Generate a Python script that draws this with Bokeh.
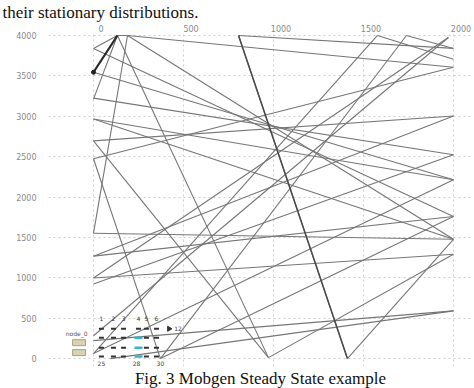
from bokeh.plotting import figure
from bokeh.models import Range1d, LinearAxis, FixedTicker, Title
from bokeh.embed import file_html
from bokeh.resources import INLINE
from bokeh.core.properties import value

# ---- data: trajectory segments (x in m, y in m) ----
seg_x0 = [0, 0, 133, 189, 189, 189, 0, 0, 0, 0, 0, 806, 806, 1411, 0, 372, 1578, 1739,
          0, 0, 0, 0, 0, 0, 0, 0, 0, 0, 94, 372, 972, 0, 0, 0, 0, 133]
seg_y0 = [3545, 3212, 4000, 4000, 4000, 4000, 3840, 3545, 3225, 2474, 2695, 4000, 4000, 0,
          62, 0, 4000, 4000, 997, 283, 1551, 2474, 2695, 3840, 2966, 997, 923, 222, 0, 0,
          12, 62, 2966, 1268, 1268, 4000]
seg_x1 = [133, 133, 189, 0, 2000, 2000, 2000, 2000, 2000, 2000, 2000, 2000, 1411, 2000,
          1578, 1739, 2000, 2000, 1972, 1972, 2000, 372, 972, 133, 2000, 2000, 2000, 2000,
          2000, 2000, 2000, 2000, 2000, 2000, 2000, 972]
seg_y1 = [4000, 4000, 4000, 1551, 3606, 1477, 1760, 2215, 2523, 3606, 3003, 3840, 0, 1477,
          4000, 4000, 3705, 3840, 3975, 3975, 1477, 0, 12, 4000, 2215, 1292, 2523, 591,
          591, 1760, 1292, 2215, 1477, 1760, 3003, 12]
thick_idx = [0]
dark_idx = [12]

x_ticks = [0, 500, 1000, 1500, 2000]
y_ticks = [0, 500, 1000, 1500, 2000, 2500, 3000, 3500, 4000]

# ---- inset (small node diagram, bottom-left) ----
node_cols = [44, 111, 167, 250, 294, 350]
node_rows = [369, 258, 135, 25]
node_col_labels = ["1", "2", "3", "4", "5", "6"]
node_label_y = 492
bottom_labels = ["25", "28", "30"]
bottom_label_x = [44, 239, 372]
bottom_label_y = -62
cyan_rows = [258, 135, 25]
icon_y = [197, 74]

p = figure(width=474, height=388, output_backend="svg", toolbar_location=None,
           x_range=Range1d(-250, 2106), y_range=Range1d(-98, 4037),
           x_axis_location=None, y_axis_location="left",
           min_border_left=48, min_border_right=2, min_border_top=30, min_border_bottom=22)
p.outline_line_color = None
p.background_fill_color = "white"

# grids
p.xgrid.ticker = FixedTicker(ticks=x_ticks)
p.ygrid.ticker = FixedTicker(ticks=y_ticks)
p.grid.grid_line_color = "#cfcfcf"
p.grid.grid_line_dash = "2 3"
p.grid.grid_line_width = 1

# y axis
p.yaxis.ticker = FixedTicker(ticks=y_ticks)
p.yaxis.axis_line_color = None
p.yaxis.major_tick_line_color = None
p.yaxis.minor_tick_line_color = None
p.yaxis.major_label_text_font_size = "8px"
p.yaxis.major_label_text_color = "#8a8a8a"
p.yaxis.major_label_text_font = "DejaVu Sans"
p.yaxis.major_label_standoff = 6

# x axis on top (labels slightly offset like the scan)
p.extra_x_ranges = {"lab": Range1d(-250 - 42, 2106 - 42)}
xa = LinearAxis(x_range_name="lab", ticker=FixedTicker(ticks=x_ticks))
xa.axis_line_color = None
xa.major_tick_line_color = None
xa.minor_tick_line_color = None
xa.major_tick_out = 0
xa.major_label_text_font_size = "8px"
xa.major_label_text_color = "#8a8a8a"
xa.major_label_text_font = "DejaVu Sans"
xa.major_label_standoff = 1
p.add_layout(xa, "above")

# trajectory
p.segment(x0=seg_x0, y0=seg_y0, x1=seg_x1, y1=seg_y1, line_color="#767676", line_width=1.1)
p.segment(x0=[seg_x0[i] for i in dark_idx], y0=[seg_y0[i] for i in dark_idx],
          x1=[seg_x1[i] for i in dark_idx], y1=[seg_y1[i] for i in dark_idx],
          line_color="#4a4a4a", line_width=1.5)
p.segment(x0=[seg_x0[i] for i in thick_idx], y0=[seg_y0[i] for i in thick_idx],
          x1=[seg_x1[i] for i in thick_idx], y1=[seg_y1[i] for i in thick_idx],
          line_color="#2a2a2a", line_width=2.2)
p.scatter(x=[seg_x0[0]], y=[seg_y0[0]], size=4, color="#222222")

# inset nodes
nx, ny = [], []
for c_i, cx in enumerate(node_cols):
    for r in node_rows:
        if c_i == 3 and r in cyan_rows:
            continue
        nx.append(cx)
        ny.append(r)
p.scatter(x=nx, y=ny, marker="dash", size=5, line_color="#333333", line_width=2)
p.scatter(x=[node_cols[3]] * len(cyan_rows), y=cyan_rows, marker="dash", size=8,
          line_color="#35b5c8", line_width=2.5)
p.text(x=node_cols, y=[node_label_y] * len(node_cols), text=node_col_labels,
       text_font=value("DejaVu Sans"), text_font_size="6px", text_color="#333333",
       text_align="center", text_baseline="middle")
p.text(x=bottom_label_x, y=[bottom_label_y] * len(bottom_label_x), text=bottom_labels,
       text_font=value("DejaVu Sans"), text_font_size="6px", text_color="#444444",
       text_align="center", text_baseline="middle")
p.text(x=[470], y=[369], text=["12"], text_font=value("DejaVu Sans"), text_font_size="6px",
       text_color="#444444", text_align="center", text_baseline="middle")
p.scatter(x=[420], y=[369], marker="triangle", angle=-1.5708, size=5, color="#333333")
p.text(x=[-94], y=[308], text=["node_0"], text_font=value("DejaVu Sans"), text_font_size="6px",
       text_color="#555555", text_align="center", text_baseline="middle")
p.rect(x=[-80, -80], y=icon_y, width=72, height=74, fill_color="#d9d3b2",
       line_color="#a9a184", line_width=1)

# surrounding text of the scanned page
p.add_layout(Title(text="their stationary distributions.", align="left", offset=-46,
                   standoff=0, text_font="Liberation Serif", text_font_size="17px",
                   text_font_style="normal", text_color="#111111"), "above")
p.add_layout(Title(text="Fig. 3 Mobgen Steady State example", align="center", offset=-22,
                   standoff=0, text_font="Liberation Serif", text_font_size="17px",
                   text_font_style="normal", text_color="#111111"), "below")

open("out.html", "w").write(file_html(p, INLINE))
